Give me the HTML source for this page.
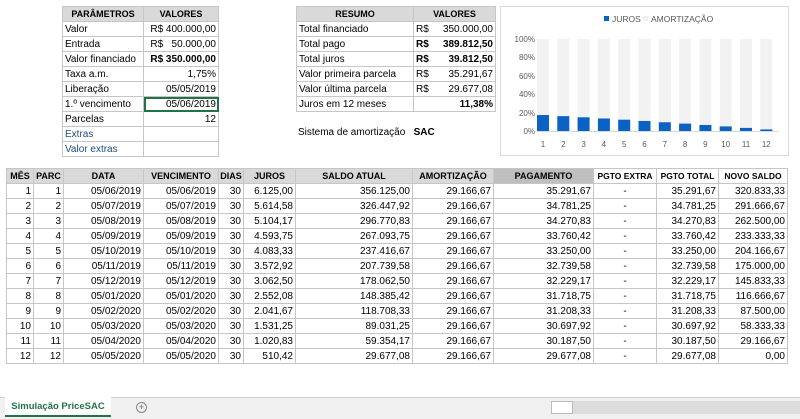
<!DOCTYPE html>
<html><head><meta charset="utf-8"><style>
*{margin:0;padding:0;box-sizing:border-box}
body{width:800px;height:419px;background:#fff;font-family:"Liberation Sans",sans-serif;font-size:10px;color:#000;position:relative;overflow:hidden}
table{border-collapse:collapse;position:absolute;table-layout:fixed}
td,th{border:1px solid #c6c6c6;height:15px;padding:0 2px;white-space:nowrap;overflow:hidden;line-height:13px}
th{background:#d9d9d9;font-weight:bold;font-size:9px;text-align:center;padding:0 1px}
.r{text-align:right}.c{text-align:center}.b{font-weight:bold}
.blue{color:#1f4e79}
</style></head><body>
<table style="left:62px;top:6px;width:156px">
<col style="width:81px"><col style="width:75px">
<tr><th>PARÂMETROS</th><th>VALORES</th></tr>
<tr><td>Valor</td><td class="r">R$ 400.000,00</td></tr>
<tr><td>Entrada</td><td class="r">R$&nbsp;&nbsp; 50.000,00</td></tr>
<tr><td>Valor financiado</td><td class="r b">R$ 350.000,00</td></tr>
<tr><td>Taxa a.m.</td><td class="r">1,75%</td></tr>
<tr><td>Liberação</td><td class="r">05/05/2019</td></tr>
<tr><td>1.º vencimento</td><td class="r" style="outline:2px solid #217346;outline-offset:-2px">05/06/2019</td></tr>
<tr><td>Parcelas</td><td class="r">12</td></tr>
<tr><td class="blue">Extras</td><td></td></tr>
<tr><td class="blue">Valor extras</td><td></td></tr>
</table>
<table style="left:296px;top:6px;width:199px">
<col style="width:117px"><col style="width:82px">
<tr><th>RESUMO</th><th>VALORES</th></tr>
<tr><td>Total financiado</td><td class="r"><span style="float:left">R$</span>350.000,00</td></tr>
<tr><td>Total pago</td><td class="r b"><span style="float:left">R$</span>389.812,50</td></tr>
<tr><td>Total juros</td><td class="r b"><span style="float:left">R$</span>39.812,50</td></tr>
<tr><td>Valor primeira parcela</td><td class="r"><span style="float:left">R$</span>35.291,67</td></tr>
<tr><td>Valor última parcela</td><td class="r"><span style="float:left">R$</span>29.677,08</td></tr>
<tr><td>Juros em 12 meses</td><td class="r b">11,38%</td></tr>
</table>
<div style="position:absolute;left:298px;top:127px">Sistema de amortização&nbsp;&nbsp; <b>SAC</b></div>
<svg style="position:absolute;left:500px;top:6px" width="289" height="150">
<rect x="0.5" y="0.5" width="288" height="149" fill="#fff" stroke="#d9d9d9"/>
<rect x="104" y="10" width="5" height="5" fill="#0a62c4"/><text x="112" y="16" font-size="8.5" fill="#595959" font-family="Liberation Sans">JUROS</text>
<rect x="143" y="10" width="5" height="5" fill="#f2f2f2"/><text x="151" y="16" font-size="8.5" fill="#595959" font-family="Liberation Sans">AMORTIZAÇÃO</text>
<g font-size="8" fill="#595959" font-family="Liberation Sans" text-anchor="end">
<text x="35" y="36">100%</text><text x="35" y="54">80%</text><text x="35" y="73">60%</text><text x="35" y="91">40%</text><text x="35" y="110">20%</text><text x="35" y="128">0%</text></g>
<line x1="37" y1="125.5" x2="278" y2="125.5" stroke="#d9d9d9"/>
<g id="bars"></g>
</svg>
<table style="left:6px;top:168px;width:781px" id="m">
<col style="width:27px"><col style="width:30px"><col style="width:80px"><col style="width:75px"><col style="width:25px"><col style="width:52px"><col style="width:117px"><col style="width:81px"><col style="width:100px"><col style="width:63px"><col style="width:62px"><col style="width:69px">
<tr><th>MÊS</th><th>PARC</th><th>DATA</th><th>VENCIMENTO</th><th>DIAS</th><th>JUROS</th><th>SALDO ATUAL</th><th>AMORTIZAÇÃO</th><th style="background:#bfbfbf">PAGAMENTO</th><th style="background:#fff;font-size:8.5px">PGTO EXTRA</th><th style="background:#fff;font-size:8.5px">PGTO TOTAL</th><th style="background:#fff;font-size:8.5px">NOVO SALDO</th></tr>
</table>
<div style="position:absolute;left:0;top:397px;width:800px;height:22px;background:#f0f0f0;border-top:1px solid #d0d0d0"></div>
<div style="position:absolute;left:5px;top:397px;width:106px;height:20px;background:#fff;border-bottom:2px solid #217346;color:#217346;font-weight:bold;font-size:9.5px;text-align:center;line-height:19px;white-space:nowrap">Simulação PriceSAC</div>
<div style="position:absolute;left:136px;top:402px;width:11px;height:11px;border:1px solid #888;border-radius:50%;font-size:9px;line-height:9px;text-align:center;color:#666">+</div>
<div style="position:absolute;left:551px;top:401px;width:22px;height:13px;border:1px solid #bbb;background:#fff"></div>
<div style="position:absolute;left:573px;top:401px;width:227px;height:13px;background:#dcdcdc"></div>
<script>
var j=[6125.00,5614.58,5104.17,4593.75,4083.33,3572.92,3062.50,2552.08,2041.67,1531.25,1020.83,510.42];
var s=["356.125,00","326.447,92","296.770,83","267.093,75","237.416,67","207.739,58","178.062,50","148.385,42","118.708,33","89.031,25","59.354,17","29.677,08"];
var p=["35.291,67","34.781,25","34.270,83","33.760,42","33.250,00","32.739,58","32.229,17","31.718,75","31.208,33","30.697,92","30.187,50","29.677,08"];
var n=["320.833,33","291.666,67","262.500,00","233.333,33","204.166,67","175.000,00","145.833,33","116.666,67","87.500,00","58.333,33","29.166,67","0,00"];
var jf=["6.125,00","5.614,58","5.104,17","4.593,75","4.083,33","3.572,92","3.062,50","2.552,08","2.041,67","1.531,25","1.020,83","510,42"];
var h="",g="";
for(var i=0;i<12;i++){var m=6+i,y=2019;if(m>12){m-=12;y=2020}var d="05/"+(m<10?"0":"")+m+"/"+y;
h+="<tr><td class=r>"+(i+1)+"</td><td class=r>"+(i+1)+"</td><td class=r>"+d+"</td><td class=r>"+d+"</td><td class=r>30</td><td class=r>"+jf[i]+"</td><td class=r>"+s[i]+"</td><td class=r>29.166,67</td><td class=r>"+p[i]+"</td><td class=c>-</td><td class=r>"+p[i]+"</td><td class=r>"+n[i]+"</td></tr>";
var x=37+i*20.3,f=j[i]/(j[i]+29166.67),bh=92*f;
g+='<rect x="'+x+'" y="33" width="12" height="92" fill="#f2f2f2"/><rect x="'+x+'" y="'+(125-bh)+'" width="12" height="'+bh+'" fill="#0a62c4"/><text x="'+(x+6)+'" y="141" font-size="8" fill="#595959" text-anchor="middle" font-family="Liberation Sans">'+(i+1)+'</text>';}
document.getElementById("m").insertAdjacentHTML("beforeend",h);
document.getElementById("bars").innerHTML=g;
</script>
</body></html>
